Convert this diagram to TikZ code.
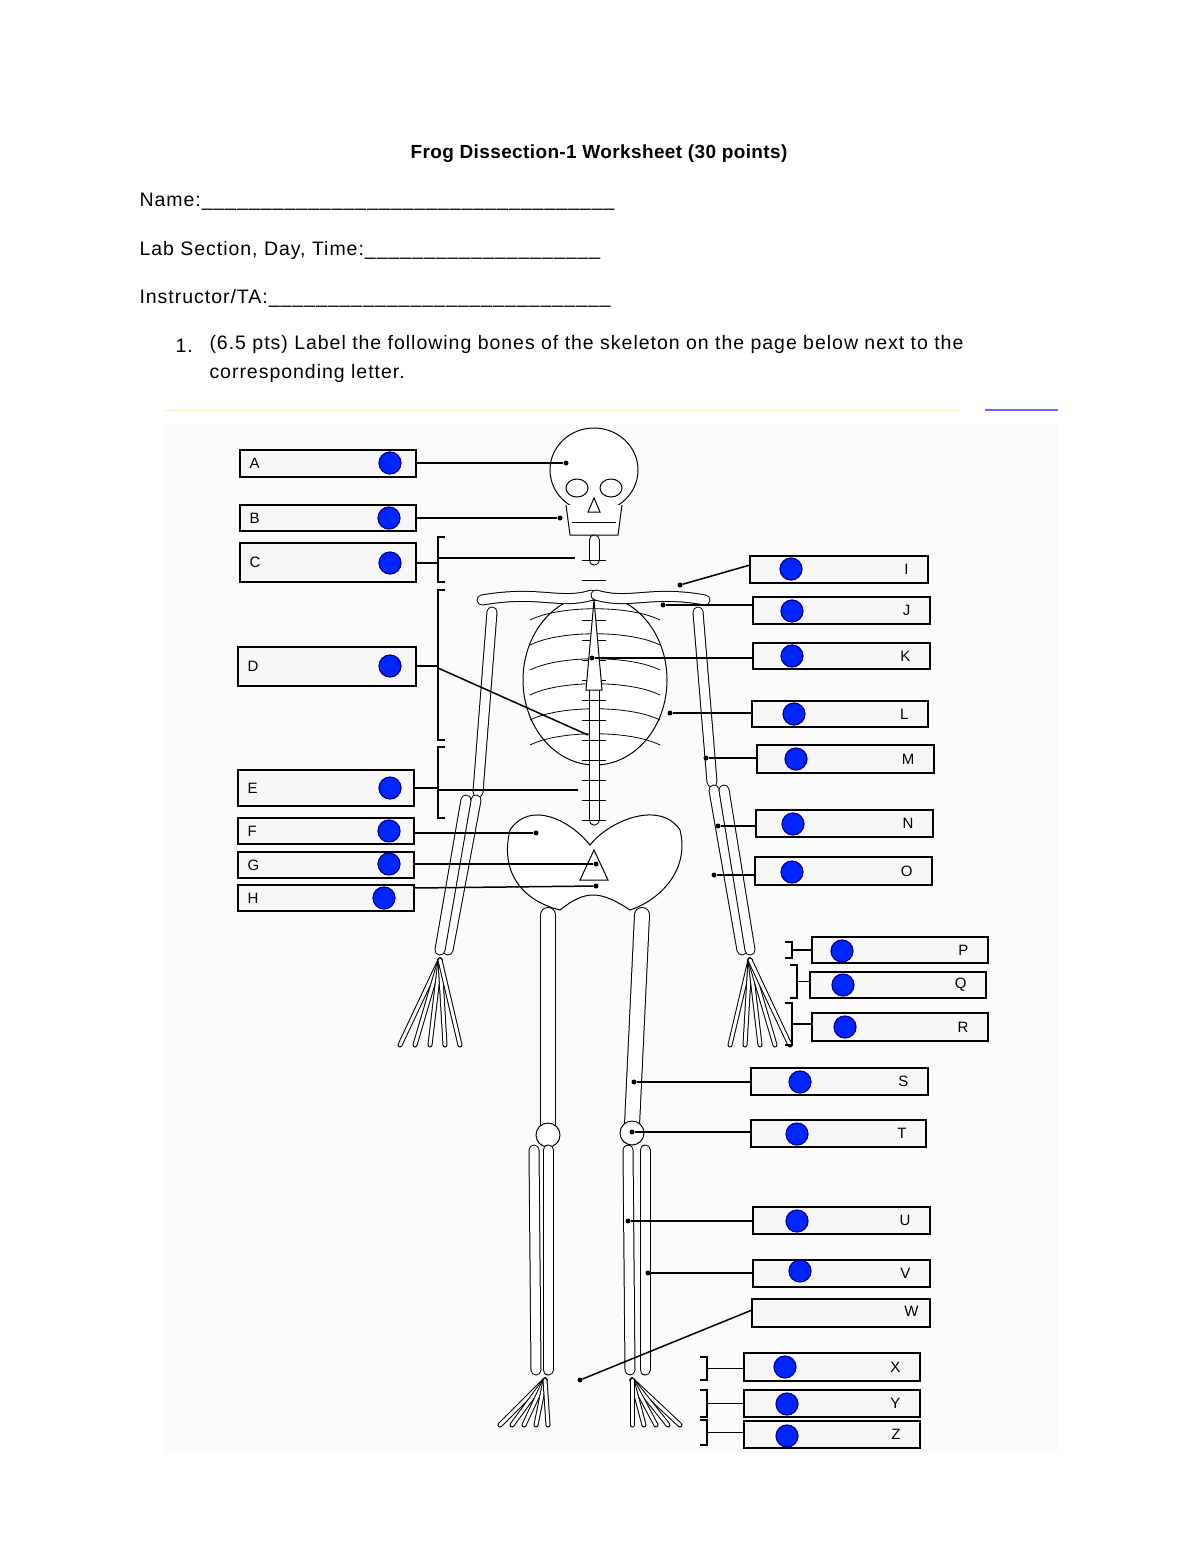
\documentclass[tikz,border=0pt]{standalone}
\usepackage{fontspec}
\setmainfont{Liberation Sans}[LetterSpace=5]
\newfontfamily\titlefont{Liberation Sans}[LetterSpace=2]
\begin{document}
\begin{tikzpicture}[x=1pt,y=-1pt,
  lbox/.style={draw=black,line width=1.6pt,fill=gray!6},
  dotc/.style={circle,draw=blue!60!black,line width=1.2pt,fill=blue!85!cyan,minimum size=22pt,inner sep=0pt},
  lt/.style={anchor=west,font=\fontsize{15}{15}\selectfont},
  body/.style={font=\fontsize{19.5}{19.5}\selectfont},
  con/.style={line width=1.5pt},
  tip/.style={circle,fill=black,inner sep=0pt,minimum size=5pt},
  bone/.style={draw=black,double=white,double distance=9pt,line width=1pt,line cap=round},
  thin/.style={draw=black,line width=1pt,fill=white}]
\useasboundingbox (0,0) rectangle (1200,1553);
\fill[white] (0,0) rectangle (1200,1553);
\node[font=\titlefont\bfseries\fontsize{19}{19}\selectfont] (title) at (599,154) {Frog Dissection-1 Worksheet (30 points)};
\node[anchor=west,body] (nm) at (136,202) {Name:\_\_\_\_\_\_\_\_\_\_\_\_\_\_\_\_\_\_\_\_\_\_\_\_\_\_\_\_\_\_\_\_\_\_\_};
\node[anchor=west,body] (ls) at (136,250) {Lab Section, Day, Time:\_\_\_\_\_\_\_\_\_\_\_\_\_\_\_\_\_\_\_\_};
\node[anchor=west,body] (it) at (136,298) {Instructor/TA:\_\_\_\_\_\_\_\_\_\_\_\_\_\_\_\_\_\_\_\_\_\_\_\_\_\_\_\_\_};
\node[anchor=west,body] (q1) at (172,346) {1.};
\node[anchor=north west,align=left,font=\fontsize{19.5}{29}\selectfont] (q1t) at (206,332) {(6.5 pts) Label the following bones of the skeleton on the page below next to the\\corresponding letter.};
\draw[yellow!20!orange!20,line width=1pt] (165,410) -- (960,410);
\draw[blue!60,line width=1.5pt] (985,410) -- (1058,410);
\fill[gray!3] (165,425) rectangle (1058,1452);
% skeleton
\draw[thin] (594,470) ellipse (44 and 42);
\draw[thin] (566,505) -- (570,535) -- (618,535) -- (622,505);
\draw[thin] (577,488) ellipse (11 and 9); \draw[thin] (611,488) ellipse (11 and 9);
\draw[thin] (594,498) -- (588,512) -- (600,512) -- cycle;
\draw[thin] (572,522) -- (616,522);
\draw[thin] (595,680) ellipse (72 and 85);
\foreach \y in {620,645,670,695,720,745}{\draw[line width=0.8pt] (530,\y) .. controls (560,\y-15) and (630,\y-15) .. (660,\y);}
\draw[bone] (594,540) -- (594,560);
\draw[bone] (594,680) -- (594,820);
\foreach \y in {560,580,...,820}{\draw[line width=0.8pt] (582,\y) -- (606,\y);}
\draw[bone] (482,600) .. controls (540,590) and (560,605) .. (592,595);
\draw[bone] (705,600) .. controls (650,590) and (630,605) .. (596,595);
\draw[thin] (594,600) -- (586,690) -- (602,690) -- cycle;
\draw[thin] (510,830) .. controls (530,800) and (570,820) .. (590,845) .. controls (610,820) and (660,800) .. (680,830) .. controls (690,870) and (660,900) .. (630,910) .. controls (600,890) and (585,890) .. (560,910) .. controls (520,900) and (500,870) .. (510,830) -- cycle;
\draw[thin] (594,850) -- (580,880) -- (608,880) -- cycle;
\draw[bone] (492,612) -- (478,792);
\draw[bone] (698,612) -- (712,782);
\draw[bone] (476,800) -- (448,950); \draw[bone] (466,800) -- (440,950);
\draw[bone] (714,790) -- (742,950); \draw[bone] (724,790) -- (750,950);
\foreach \dx in {-30,-15,0,15,30}{\draw[bone,double distance=3pt] (440,960) -- (430+\dx,1045);
 \draw[bone,double distance=3pt] (750,960) -- (760+\dx,1045);}
\draw[bone,double distance=14pt] (548,915) -- (548,1125);
\draw[bone,double distance=14pt] (642,915) -- (632,1125);
\draw[thin] (548,1135) circle (12); \draw[thin] (632,1133) circle (12);
\draw[bone] (548,1150) -- (548,1370); \draw[bone] (534,1150) -- (536,1370);
\draw[bone] (628,1150) -- (630,1370); \draw[bone] (645,1150) -- (645,1370);
\foreach \dx in {-40,-28,-16,-4,8}{\draw[bone,double distance=3pt] (545,1380) -- (540+\dx,1425);
 \draw[bone,double distance=3pt] (632,1380) -- (640-\dx,1425);}
% left labels
\foreach \n/\l/\xa/\ya/\xb/\yb/\cx/\cy in {A/A/240/450/416/477/390/463, B/B/240/505/416/531/389/518, C/C/240/543/416/582/390/563, D/D/238/647/416/686/390/666, E/E/238/770/414/806/390/788, F/F/238/818/414/844/389/831, G/G/238/852/414/878/389/864, H/H/238/885/414/911/384/898}{
  \draw[lbox] (\xa,\ya) rectangle (\xb,\yb);
  \node[lt] (t\n) at (\xa+6,{(\ya+\yb)/2}) {\l};
  \node[dotc] (c\n) at (\cx,\cy) {};
}
% right labels
\foreach \n/\l/\xa/\ya/\xb/\yb/\cx/\cy in {I/I/750/556/928/583/791/569, J/J/753/597/930/624/792/611, K/K/753/643/930/669/792/656, L/L/752/701/928/727/794/714, M/M/757/745/934/773/796/759, N/N/756/810/933/837/793/824, O/O/755/857/932/885/792/872, P/P/812/937/988/963/842/951, Q/Q/810/972/986/998/843/985, R/R/812/1013/988/1041/845/1027, S/S/751/1068/928/1095/800/1082, T/T/751/1120/926/1147/797/1134, U/U/753/1207/930/1234/797/1221, V/V/753/1260/930/1287/800/1271, X/X/744/1353/920/1381/785/1367, Y/Y/744/1390/920/1417/787/1404, Z/Z/744/1421/920/1448/787/1436}{
  \draw[lbox] (\xa,\ya) rectangle (\xb,\yb);
  \node[lt,anchor=east] (t\n) at (\xb-16,{(\ya+\yb)/2}) {\l};
  \node[dotc] (c\n) at (\cx,\cy) {};
}
\draw[lbox] (752,1299) rectangle (930,1327);
\node[lt,anchor=east] (tW) at (922,1311) {W};
% tips and connectors
\foreach \n/\x/\y/\sx/\sy in {A/566/463/416/463, B/560/518/416/518, F/536/833/414/833, G/596/864/414/864, H/596/886/414/888,
  I/680/585/750/565, J/663/605/753/605, K/592/658/753/658, L/670/713/752/713, M/706/758/757/758, N/718/826/756/826, O/714/875/755/875,
  S/634/1082/751/1082, T/632/1132/751/1132, U/628/1221/753/1221, V/648/1273/753/1273, W/580/1380/752/1310}{
  \node[tip] (p\n) at (\x,\y) {};
  \coordinate (s\n) at (\sx,\sy);
  \draw[con] (s\n) -- (p\n);
}
% brackets left
\foreach \n/\ya/\yb in {C/537/582, D/590/740, E/747/818}{
  \draw[con] (445,\ya) -- (438,\ya) -- (438,\yb) -- (445,\yb);
}
\coordinate (bC) at (438,558); \coordinate (eC) at (575,558); \draw[con] (bC) -- (eC);
\coordinate (bD) at (438,668); \coordinate (eD) at (588,735); \draw[con] (bD) -- (eD);
\coordinate (bE) at (438,790); \coordinate (eE) at (578,790); \draw[con] (bE) -- (eE);
\coordinate (lC) at (416,563); \draw[con] (lC) -- (438,563);
\coordinate (lD) at (416,666); \draw[con] (lD) -- (438,666);
\coordinate (lE) at (414,788); \draw[con] (lE) -- (438,788);
% brackets right
\foreach \ya/\yb/\xl/\xr in {942/958/785/812, 965/998/790/810, 1003/1045/785/812, 1357/1380/700/744, 1390/1417/700/744, 1420/1445/700/744}{
  \draw[con] (\xl,\ya) -- (\xl+7,\ya) -- (\xl+7,\yb) -- (\xl,\yb);
  \draw[con] (\xl+7,{(\ya+\yb)/2}) -- (\xr,{(\ya+\yb)/2});
}
\end{tikzpicture}
\end{document}
